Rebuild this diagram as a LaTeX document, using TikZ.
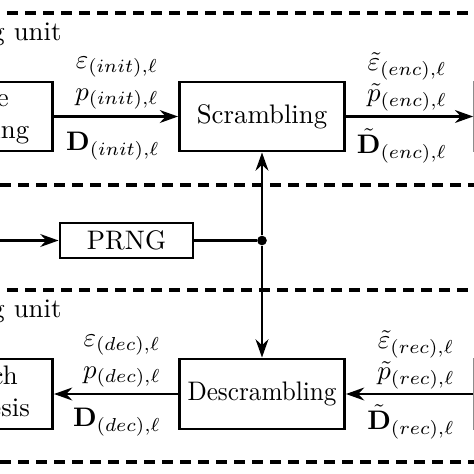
\documentclass[tikz,border=0pt]{standalone}
\usepackage{graphicx}
\usepackage{amsmath}
\usetikzlibrary{arrows.meta}
\begin{document}
\begin{tikzpicture}[x=0.3731pt,y=-0.3731pt,
  box/.style={draw,line width=1.1pt,minimum width=61.56pt,minimum height=25.74pt,inner sep=0pt,align=center},
  arr/.style={line width=0.9pt,-{Stealth[length=6.8pt,width=4.8pt,inset=2.2pt]}},
  plain/.style={line width=0.9pt},
  sepline/.style={line width=1.5pt,dash pattern=on 3.92pt off 2.8pt},
  lbl/.style={inner sep=0pt}]
\useasboundingbox (0,0) rectangle (474,474);
\clip (0,0) rectangle (474,474);
% separators
\draw[sepline] (7,13) -- (480,13);
\draw[sepline] (0,185) -- (480,185);
\draw[sepline] (7,290) -- (480,290);
\draw[sepline] (0,462) -- (480,462);
% unit labels
\node[anchor=base east,inner sep=0pt] (u1) at (62,40) {Transmitting unit};
\node[anchor=base east,inner sep=0pt] (u2) at (62,317) {Receiving unit};
% boxes
\node[box,minimum width=55.97pt,anchor=east] (enc) at (54,116.5) {Voice\\encoding};
\node[box] (scr) at (262,116.5) {Scrambling};
\node[box,minimum width=55.97pt,anchor=west,draw=black!45,line width=0.6pt] (tx) at (473.2,116.5) {};
\node[box,minimum width=49.62pt,minimum height=13.06pt] (prng) at (126.5,240.5) {PRNG};
\node[circle,fill,inner sep=0pt,minimum size=3.6pt] (dot) at (262,240.5) {};
\node[box,minimum height=26.12pt] (dscr) at (262,394) {\scalebox{0.94}[1]{Descrambling}};
\node[box,minimum width=55.97pt,minimum height=26.12pt,anchor=east] (syn) at (54,394) {Speech\\synthesis};
\node[box,minimum width=55.97pt,minimum height=26.12pt,anchor=west,draw=black!45,line width=0.6pt] (rx) at (473.2,394) {};
\coordinate (key) at (-5,240.5);
% connectors
\draw[arr] (enc) -- (scr);
\draw[arr] (scr) -- (tx);
\draw[arr] (rx) -- (dscr);
\draw[arr] (dscr) -- (syn);
\draw[arr] (key) -- (prng);
\draw[plain] (prng) -- (dot);
\draw[arr] (dot) -- (scr);
\draw[arr] (dot) -- (dscr);
% labels
\node[lbl] (a1) at (117,67) {$\varepsilon_{(init),\ell}$};
\node[lbl] (a2) at (117,99) {$p_{(init),\ell}$};
\node[lbl] (a3) at (113,146) {$\mathbf{D}_{(init),\ell}$};
\node[lbl] (b1) at (407,66) {$\tilde{\varepsilon}_{(enc),\ell}$};
\node[lbl] (b2) at (407,97) {$\tilde{p}_{(enc),\ell}$};
\node[lbl] (b3) at (402,146) {$\tilde{\mathbf{D}}_{(enc),\ell}$};
\node[lbl] (c1) at (122,345) {$\varepsilon_{(dec),\ell}$};
\node[lbl] (c2) at (122,377) {$p_{(dec),\ell}$};
\node[lbl] (c3) at (117,422) {$\mathbf{D}_{(dec),\ell}$};
\node[lbl] (d1) at (416,344) {$\tilde{\varepsilon}_{(rec),\ell}$};
\node[lbl] (d2) at (416,375) {$\tilde{p}_{(rec),\ell}$};
\node[lbl] (d3) at (411,422) {$\tilde{\mathbf{D}}_{(rec),\ell}$};
\end{tikzpicture}
\end{document}
